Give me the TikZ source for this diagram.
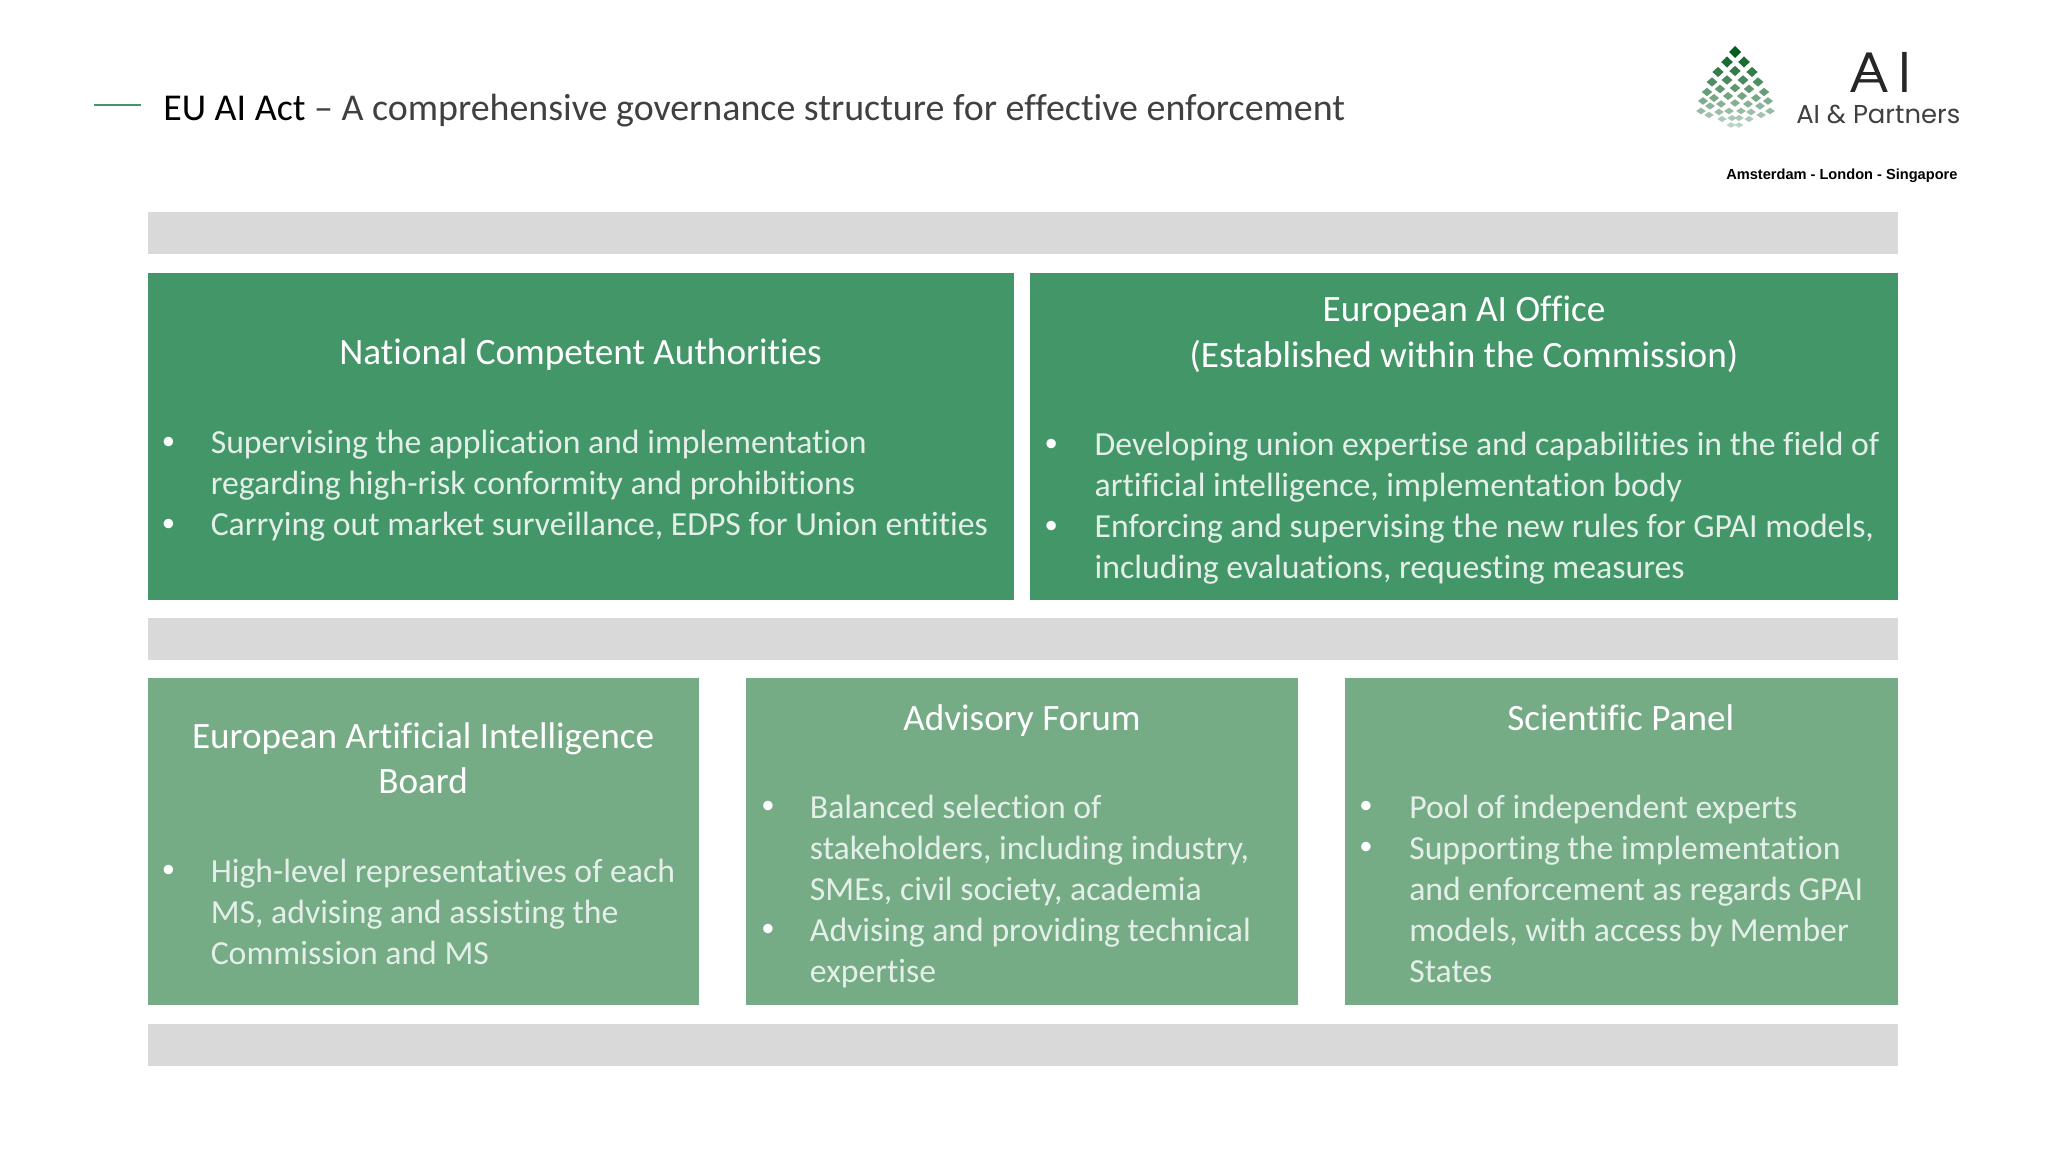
\documentclass[tikz,border=0pt]{standalone}
\usepackage{fontspec}
\setmainfont[Ligatures=NoCommon]{Carlito}
\newfontfamily\logofont[LetterSpace=12]{Poppins Light}
\newfontfamily\logoname{Poppins}
\newfontfamily\logocity[BoldFont={Liberation Sans Bold}]{Liberation Sans}
\definecolor{gbar}{HTML}{D9D9D9}
\definecolor{gdark}{HTML}{439668}
\definecolor{glight}{HTML}{75AB85}
\definecolor{leafgreen}{HTML}{045C1F}
\tikzset{
  x=0.75pt,y=-0.75pt,
  barbox/.style={fill=gbar,draw=none},
  darkbox/.style={fill=gdark,draw=none},
  lightbox/.style={fill=glight,draw=none},
  headtext/.style={text=white,align=center,inner sep=0pt,anchor=center,font=\fontsize{27.9}{34.4}\selectfont},
  bodytext/.style={text=white!85!gdark,align=left,inner sep=0pt,anchor=north west,font=\fontsize{25.3}{30.75}\selectfont},
  bullettext/.style={text=white,inner sep=0pt,anchor=center,font=\fontsize{20}{24}\selectfont},
}
\begin{document}
\begin{tikzpicture}
\useasboundingbox (0,0) rectangle (2048,1152);
\fill[white] (0,0) rectangle (2048,1152);
% title
\coordinate (ruleL) at (94,105);
\coordinate (ruleR) at (141,105);
\draw[gdark,line width=2pt] (ruleL) -- (ruleR);
\node[anchor=base west,inner sep=0pt,text=black,font=\fontsize{28.45}{35}\selectfont] (title) at (163,121) {EU AI Act \textcolor{black!75}{– A comprehensive governance structure for effective enforcement}};
% bars
\fill[barbox] (147.6,211.6) rectangle (1897.6,254);
\fill[barbox] (147.6,617.7) rectangle (1897.6,660);
\fill[barbox] (147.6,1023.9) rectangle (1897.6,1066.2);
% boxes
\fill[darkbox] (147.6,273) rectangle (1013.5,599.5);
\fill[darkbox] (1030.4,273) rectangle (1897.6,599.5);
\fill[lightbox] (147.6,677.8) rectangle (698.7,1004.8);
\fill[lightbox] (745.7,677.8) rectangle (1298.2,1004.8);
\fill[lightbox] (1345.2,677.8) rectangle (1897.6,1004.8);
% NCA
\node[headtext] (h1) at (580.6,354.5) {National Competent Authorities};
\node[bullettext] (b1a) at (168.5,443) {•};
\node[bullettext] (b1b) at (168.5,525) {•};
\node[bodytext] (t1) at (210.5,430) {Supervising the application and implementation\\regarding high-risk conformity and prohibitions\\Carrying out market surveillance, EDPS for Union entities};
% Office
\node[headtext] (h2) at (1464,334) {European AI Office\\(Established within the Commission)};
\node[bullettext] (b2a) at (1051.3,445.6) {•};
\node[bullettext] (b2b) at (1051.3,527.6) {•};
\node[bodytext] (t2) at (1094.4,432) {Developing union expertise and capabilities in the field of\\artificial intelligence, implementation body\\Enforcing and supervising the new rules for GPAI models,\\including evaluations, requesting measures};
% Board
\node[headtext] (h3) at (423.1,758.2) {European Artificial Intelligence\\Board};
\node[bullettext] (b3a) at (168.5,871.4) {•};
\node[bodytext] (t3) at (210.5,859) {High-level representatives of each\\MS, advising and assisting the\\Commission and MS};
% Forum
\node[headtext] (h4) at (1022,720.5) {Advisory Forum};
\node[bullettext] (b4a) at (768,807.4) {•};
\node[bullettext] (b4b) at (768,930.2) {•};
\node[bodytext] (t4) at (809.7,795) {Balanced selection of\\stakeholders, including industry,\\SMEs, civil society, academia\\Advising and providing technical\\expertise};
% Panel
\node[headtext] (h5) at (1620.7,718) {Scientific Panel};
\node[bullettext] (b5a) at (1366,807.4) {•};
\node[bullettext] (b5b) at (1366,848) {•};
\node[bodytext] (t5) at (1409,795) {Pool of independent experts\\Supporting the implementation\\and enforcement as regards GPAI\\models, with access by Member\\States};
% logo mark
\foreach \x/\y in {
1735/52,
1727/62,1744/62,
1718/72,1735/71,1752/72,
1712/82,1727/80,1743/80,1758/82,
1707/92,1720/89,1735/88,1749/89,1764/92,
1703/101,1714/98,1728/96,1742/96,1756/98,1768/101,
1701/111,1710/106,1721/104,1735/103,1748/104,1760/106,1770/111,
1709/115,1719/112,1729/111,1741/111,1751/112,1761/115,
1722/119,1732/118,1739/118,1749/119,
1731/125,1739/125}{
  \pgfmathsetmacro{\p}{max(22,100-1.0*(\y-52))}
  \pgfmathsetmacro{\h}{max(2,6-0.045*(\y-52))}
  \pgfmathsetmacro{\w}{max(3.8,6-0.02*(\y-52))}
  \fill[leafgreen!\p!white] (\x,\y-\h) -- (\x+\w,\y) -- (\x,\y+\h) -- (\x-\w,\y) -- cycle;
}
% logo text
\node[anchor=base west,inner sep=0pt,text=black!85,font=\logofont\fontsize{43}{43}\selectfont,xscale=1.12] (logoai) at (1848,93) {AI};
\coordinate (barL) at (1860,73.5);
\coordinate (barR) at (1880,73.5);
\draw[black!85,line width=1.6pt] (barL) -- (barR);
\node[anchor=base west,inner sep=0pt,text=black!75,font=\logoname\fontsize{19.4}{19}\selectfont] (logoname) at (1796,124) {AI \& Partners};
\node[anchor=base west,inner sep=0pt,text=black,font=\logocity\bfseries\fontsize{10.95}{12}\selectfont] (logocity) at (1726,179.5) {Amsterdam - London - Singapore};
\end{tikzpicture}
\end{document}
